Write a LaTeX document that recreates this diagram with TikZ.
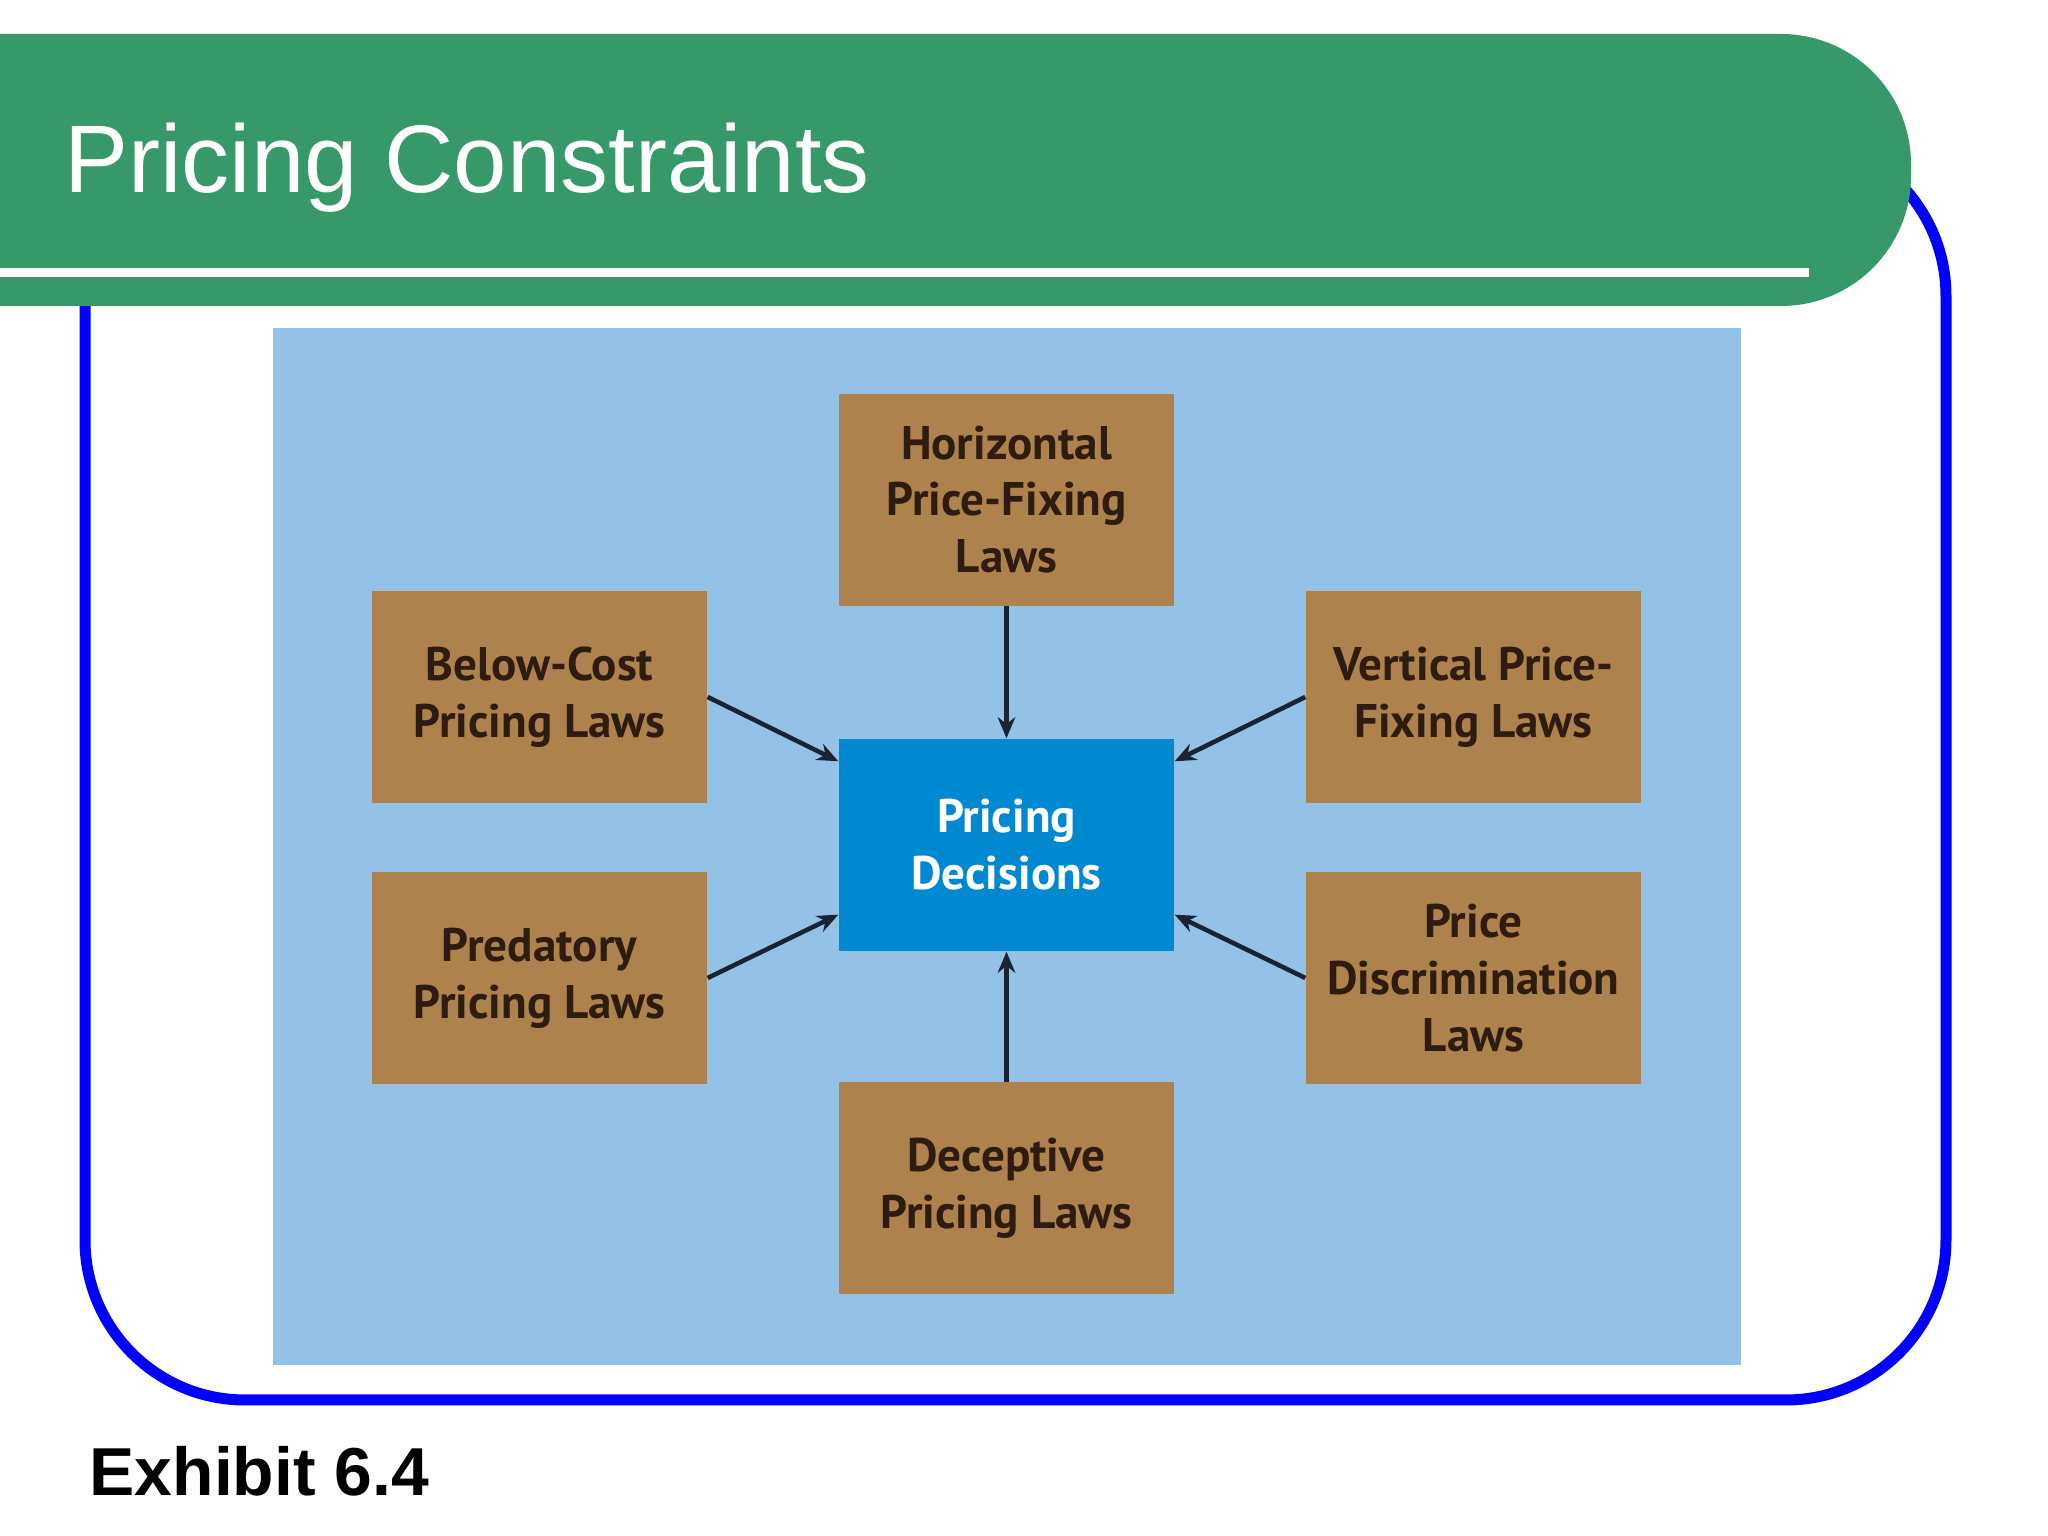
\documentclass[tikz,border=0pt]{standalone}
\usepackage{fontspec}
\setmainfont{Liberation Sans}
\newfontfamily\boxfont{PT Sans}
\usetikzlibrary{positioning,arrows.meta}

\definecolor{hdrgreen}{RGB}{55,153,106}
\definecolor{panelblue}{RGB}{148,194,231}
\definecolor{lawbrown}{RGB}{174,130,77}
\definecolor{decblue}{RGB}{0,136,209}
\definecolor{arrowdark}{RGB}{24,36,52}
\definecolor{lawtext}{RGB}{45,28,15}

\begin{document}
\begin{tikzpicture}[
                node distance=1.32cm,
                lawbox/.style={fill=lawbrown, inner sep=0pt,
                               minimum width=3.35cm, minimum height=2.12cm,
                               align=center, text=lawtext,
                               font=\boxfont\bfseries\fontsize{13.4}{16.2}\selectfont},
                decbox/.style={lawbox, fill=decblue, text=white},
                arr/.style={-{Stealth[length=6pt,width=5pt]}, line width=1.3pt, arrowdark}
            ]
                \useasboundingbox (0,0) rectangle (20.48,15.36);
                % frame and title bar
                \draw[line width=0.11cm, blue, rounded corners=1.6cm] (0.85,14.0) rectangle (19.46,1.36);
                \fill[hdrgreen, rounded corners=1.3cm] (-2,15.02) rectangle (19.11,12.30);
                \fill[white] (0,12.68) rectangle (18.09,12.59);
                \node[anchor=base west, inner sep=0pt, text=white,
                      font=\fontsize{27.3}{32}\selectfont] (title) at (0.64,13.43) {Pricing Constraints};
                \fill[panelblue] (2.73,12.08) rectangle (17.41,1.71);

                \node[decbox] (dec) at (10.065,6.91) {Pricing\\Decisions};
                \node[lawbox, above=of dec] (horiz) {Horizontal\\Price-Fixing\\Laws};
                \node[lawbox, below=1.30cm of dec] (decept) {Deceptive\\Pricing Laws};
                \node[lawbox] (belowcost) at (5.395,8.39) {Below-Cost\\Pricing Laws};
                \node[lawbox] (vert) at (14.735,8.39) {Vertical Price-\\Fixing Laws};
                \node[lawbox] (pred) at (5.395,5.58) {Predatory\\Pricing Laws};
                \node[lawbox] (discr) at (14.735,5.58) {Price\\Discrimination\\Laws};

                \draw[arr] (horiz) -- (dec);
                \draw[arr] (decept) -- (dec);
                \draw[arr] (belowcost.east) -- ([yshift=-0.23cm]dec.north west);
                \draw[arr] (vert.west) -- ([yshift=-0.23cm]dec.north east);
                \draw[arr] (pred.east) -- ([yshift=0.37cm]dec.south west);
                \draw[arr] (discr.west) -- ([yshift=0.37cm]dec.south east);

                \node[anchor=base west, inner sep=0pt,
                      font=\bfseries\fontsize{19.3}{23}\selectfont] (exhibit) at (0.89,0.40) {Exhibit 6.4};
            \end{tikzpicture}
\end{document}
